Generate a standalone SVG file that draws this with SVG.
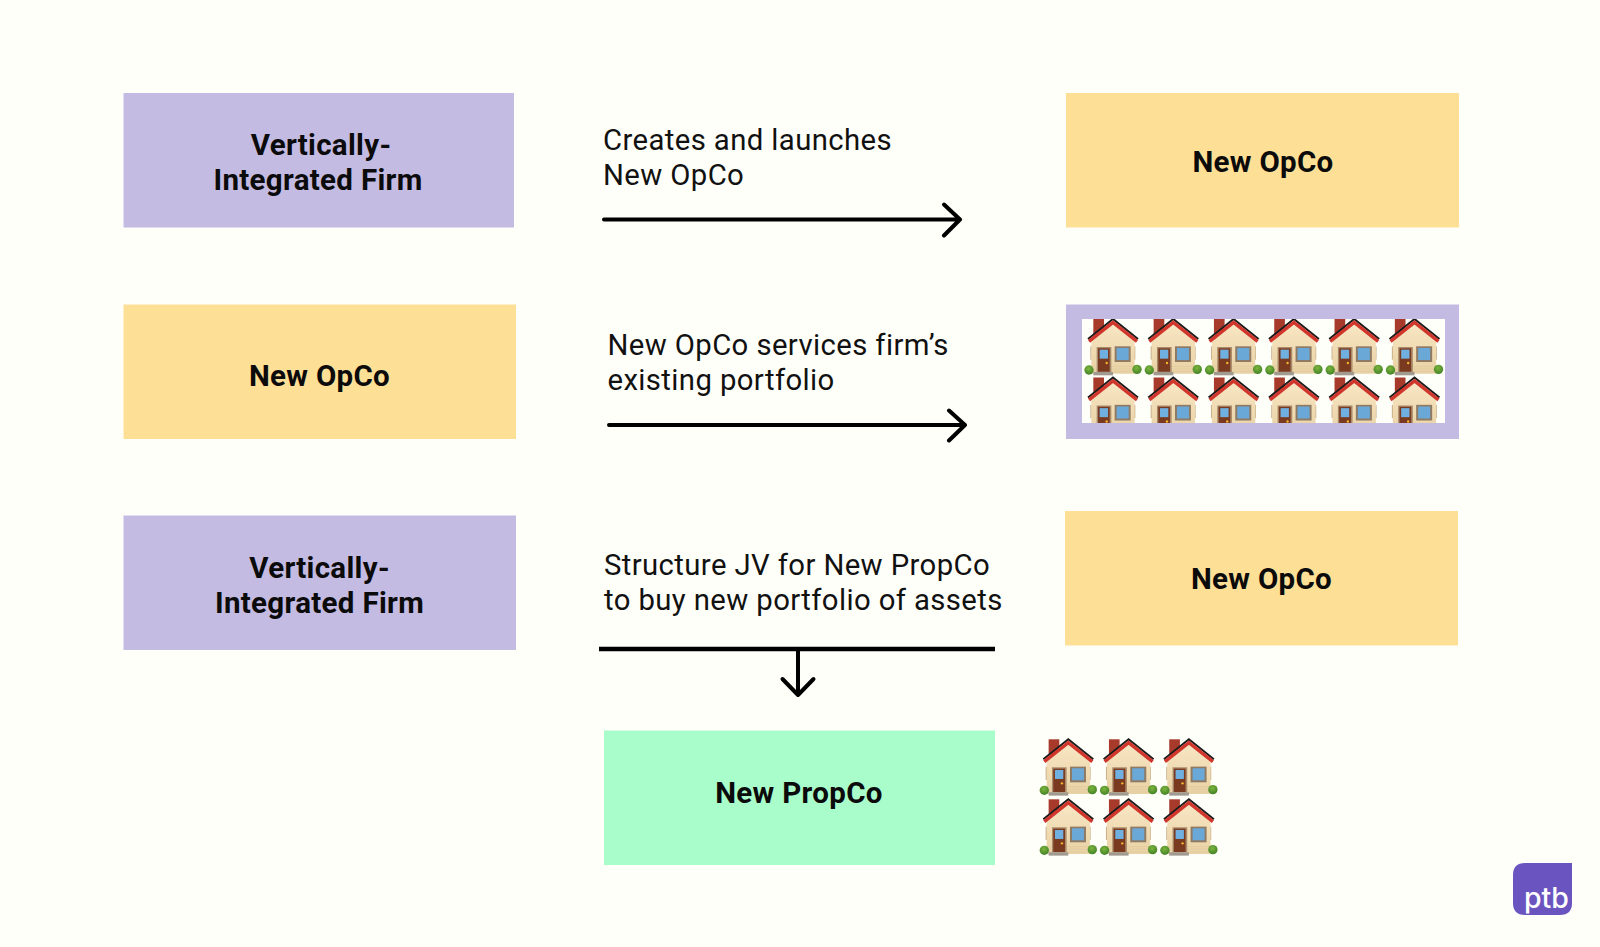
<svg xmlns="http://www.w3.org/2000/svg" xmlns:xlink="http://www.w3.org/1999/xlink" width="1600" height="947" viewBox="0 0 1600 947">
<style>
.p{fill:#c4bbe3}.y{fill:#fedf96}.g{fill:#a9fdcb}
.b{font:700 29.5px Roboto,"Liberation Sans",sans-serif;letter-spacing:.32px;fill:#0b0b0b;text-anchor:middle}
.t{font:400 29.3px Roboto,"Liberation Sans",sans-serif;letter-spacing:.39px;fill:#111}
.l{fill:none;stroke:#000;stroke-width:4;stroke-linecap:round;stroke-linejoin:round}
</style>
<defs>
<linearGradient id="w" x1="0" y1="0" x2="0" y2="1"><stop offset="0" stop-color="#f8e6c4"/><stop offset="1" stop-color="#e9d2a4"/></linearGradient>
<radialGradient id="s" cx=".45" cy=".35" r=".7"><stop offset="0" stop-color="#7cb53e"/><stop offset="1" stop-color="#3f7f25"/></radialGradient>
<clipPath id="c"><rect x="1082" y="319" width="363" height="104"/></clipPath>
<g id="house" transform="scale(.3333) translate(-72,-58)">
<rect x="100" y="58" width="32" height="46" fill="#a83a2c"/>
<rect x="91" y="140" width="4" height="40" fill="#c9b08a"/><rect x="222" y="140" width="4" height="40" fill="#c9b08a"/>
<path d="M94 122L159 70L224 122V222H94Z" fill="url(#w)"/>
<path d="M94 200H224M94 208H224M94 216H224" stroke="#dcc49a" stroke-width="1.500"/>
<path d="M84 118L159 58L234 118" fill="none" stroke="#1c1c1c" stroke-width="6"/>
<path d="M87 125L159 68L231 125" fill="none" stroke="#d0362c" stroke-width="10"/>
<rect x="110" y="142" width="44" height="75" fill="#a98a6a"/>
<rect x="114" y="146" width="35" height="70" fill="#7a3a20"/>
<rect x="119" y="150" width="25" height="27" fill="#6fb0e0"/>
<circle cx="140" cy="190" r="3.500" fill="#f5b52e"/>
<rect x="164" y="140" width="48" height="47" fill="#8f7a64"/>
<rect x="170" y="145" width="36" height="36" fill="#6aa8d8"/>
<circle cx="87" cy="211" r="14" fill="url(#s)"/>
<circle cx="231" cy="209" r="14" fill="url(#s)"/>
<rect x="100" y="217" width="59" height="10" fill="#a09a90"/>
</g>
</defs>
<rect id="bg" width="1600" height="947" fill="#fffffa"/>
<g id="connectors">
<path class="l" d="M604 219.500H960M944 204.500L960 219.500L944 235.500"/>
<path class="l" d="M609 425H965M949 410.500L965 425L949 440.500"/>
<path class="l" style="stroke-linecap:butt;stroke-width:4.500" d="M599 649H995"/>
<path class="l" d="M798 649V695M782.500 679L798 695L813.500 679"/>
</g>
<g id="firm1"><rect class="p" x="123.500" y="93" width="390.500" height="134.500"/>
<text class="b" x="321" y="154.500">Vertically-</text><text class="b" x="318" y="189.500">Integrated Firm</text></g>
<g id="opco1"><rect class="y" x="1066" y="93" width="393" height="134.500"/>
<text class="b" x="1263" y="172">New OpCo</text></g>
<g id="label1"><text class="t" x="603" y="150">Creates and launches</text><text class="t" x="603" y="185">New OpCo</text></g>
<g id="opco2"><rect class="y" x="123.500" y="304.500" width="392.500" height="134.500"/>
<text class="b" x="319.500" y="386">New OpCo</text></g>
<g id="label2"><text class="t" x="607.500" y="355">New OpCo services firm’s</text><text class="t" x="607.500" y="390">existing portfolio</text></g>
<g id="portfolio"><rect class="p" x="1066" y="304.500" width="393" height="134.500"/>
<rect x="1082" y="319" width="363" height="104" fill="#fffffa"/>
<g clip-path="url(#c)">
<use xlink:href="#house" href="#house" x="1084" y="319"/><use xlink:href="#house" href="#house" x="1144.300" y="319"/><use xlink:href="#house" href="#house" x="1204.600" y="319"/><use xlink:href="#house" href="#house" x="1264.900" y="319"/><use xlink:href="#house" href="#house" x="1325.200" y="319"/><use xlink:href="#house" href="#house" x="1385.500" y="319"/>
<use xlink:href="#house" href="#house" x="1084" y="377.500"/><use xlink:href="#house" href="#house" x="1144.300" y="377.500"/><use xlink:href="#house" href="#house" x="1204.600" y="377.500"/><use xlink:href="#house" href="#house" x="1264.900" y="377.500"/><use xlink:href="#house" href="#house" x="1325.200" y="377.500"/><use xlink:href="#house" href="#house" x="1385.500" y="377.500"/>
</g></g>
<g id="firm2"><rect class="p" x="123.500" y="515.500" width="392.500" height="134.500"/>
<text class="b" x="319.500" y="578">Vertically-</text><text class="b" x="319.500" y="613">Integrated Firm</text></g>
<g id="label3"><text class="t" x="604" y="575">Structure JV for New PropCo</text><text class="t" x="604" y="610">to buy new portfolio of assets</text></g>
<g id="opco3"><rect class="y" x="1065" y="511" width="393" height="134.500"/>
<text class="b" x="1261.500" y="589">New OpCo</text></g>
<g id="propco"><rect class="g" x="604" y="730.500" width="391" height="134.500"/>
<text class="b" x="799" y="803">New PropCo</text></g>
<g id="houses">
<use xlink:href="#house" href="#house" x="1039.300" y="739.300"/><use xlink:href="#house" href="#house" x="1099.600" y="739.300"/><use xlink:href="#house" href="#house" x="1159.900" y="739.300"/>
<use xlink:href="#house" href="#house" x="1039.300" y="799.300"/><use xlink:href="#house" href="#house" x="1099.600" y="799.300"/><use xlink:href="#house" href="#house" x="1159.900" y="799.300"/>
</g>
<g id="logo"><path d="M1525 863H1572V903Q1572 915 1560 915H1525Q1513 915 1513 903V875Q1513 863 1525 863Z" fill="#6a55c0"/>
<text x="1524" y="908" font-family="Inter,'Liberation Sans',sans-serif" font-weight="500" font-size="28.500" fill="#fff">ptb</text></g>
</svg>
